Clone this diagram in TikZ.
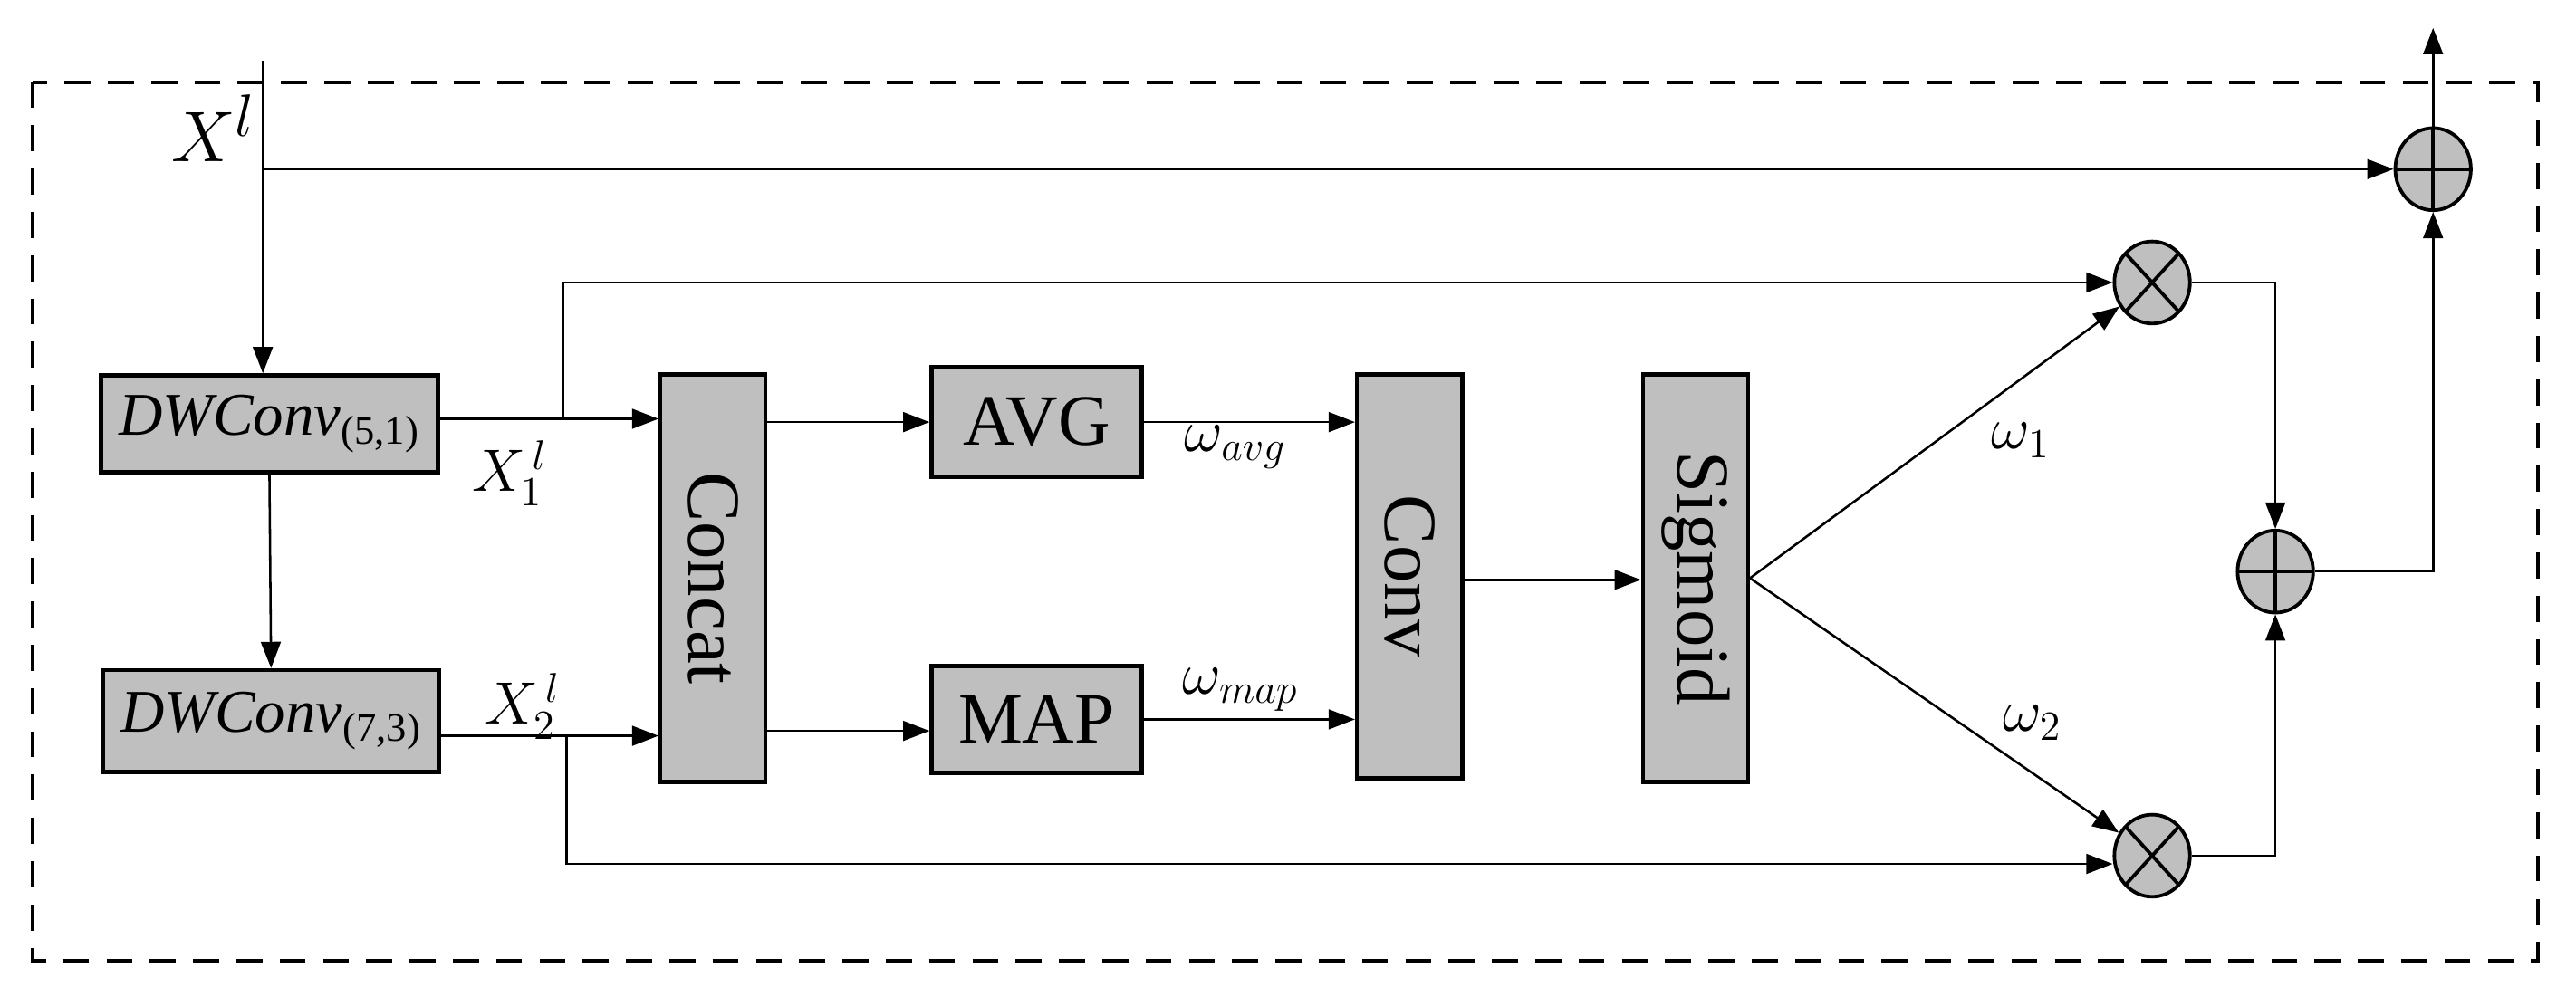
\documentclass[tikz,border=0pt]{standalone}
\usepackage{fontspec}
\setmainfont{Liberation Serif}
\usetikzlibrary{arrows.meta,shapes.geometric}
\begin{document}
\begin{tikzpicture}[x=0.02cm,y=-0.02cm,
    line width=0.8pt,
    >={Triangle[length=0.32cm,width=0.24cm]},
    blk/.style={draw,line width=1.4pt,fill=gray!50,inner sep=0pt},
    vblk/.style={blk,minimum width=64*0.02cm,minimum height=248*0.02cm},
    op/.style={draw,line width=1.2pt,fill=gray!50,ellipse,minimum width=0.92cm,minimum height=1.0cm,inner sep=0pt},
    plus/.style={op,path picture={\draw[line width=1.2pt]
        (path picture bounding box.north) -- (path picture bounding box.south)
        (path picture bounding box.west) -- (path picture bounding box.east);}},
    times/.style={op,path picture={\draw[line width=1.2pt]
        ([xshift=0.135cm,yshift=-0.145cm]path picture bounding box.north west) -- ([xshift=-0.135cm,yshift=0.145cm]path picture bounding box.south east)
        ([xshift=-0.135cm,yshift=-0.145cm]path picture bounding box.north east) -- ([xshift=0.135cm,yshift=0.145cm]path picture bounding box.south west);}},
    lbl/.style={font=\fontsize{22}{26}\selectfont}]
  \useasboundingbox (0,0) rectangle (1568,607);
  \draw[dashed,line width=1.2pt,dash pattern=on 9pt off 6pt] (20,50) rectangle (1545,585);

  % blocks
  \node[blk,minimum width=205*0.02cm,minimum height=59*0.02cm,font=\fontsize{21}{24}\selectfont] (dw1) at (164,258)
    {\textit{DWConv}\textsubscript{\fontsize{14}{16}\selectfont (5,1)}};
  \node[blk,minimum width=205*0.02cm,minimum height=62*0.02cm,font=\fontsize{21}{24}\selectfont] (dw2) at (165,439)
    {\textit{DWConv}\textsubscript{\fontsize{14}{16}\selectfont (7,3)}};
  \node[vblk] (cat) at (434,352) {};
  \node[rotate=-90,font=\fontsize{26}{30}\selectfont] (catt) at (cat) {Concat};
  \node[blk,minimum width=128*0.02cm,minimum height=67*0.02cm,font=\fontsize{25}{30}\selectfont] (avg) at (631,257) {AVG};
  \node[blk,minimum width=128*0.02cm,minimum height=65*0.02cm,font=\fontsize{25}{30}\selectfont] (map) at (631,438) {MAP};
  \node[vblk,minimum height=246*0.02cm] (conv) at (858,351) {};
  \node[rotate=-90,font=\fontsize{26}{30}\selectfont] (convt) at (conv) {Conv};
  \node[vblk] (sig) at (1032,352) {};
  \node[rotate=-90,font=\fontsize{26}{30}\selectfont] (sigt) at (sig) {Sigmoid};
  \node[times] (t1) at (1310,172) {};
  \node[times] (t2) at (1310,521) {};
  \node[plus] (p2) at (1385,348) {};
  \node[plus] (p1) at (1481,103) {};

  % free ends and bends
  \coordinate (in) at (160,37);
  \coordinate (out) at (1481,17);
  \coordinate (s0) at (160,103);
  \coordinate (b1) at (343,255);
  \coordinate (b2) at (345,448);

  % labels
  \node[lbl,font=\fontsize{30}{34}\selectfont] (xl) at (130,78) {$X^{l}$};
  \node[lbl] (x1) at (310,288) {$X_1^{\,l}$};
  \node[lbl] (x2) at (318,430) {$X_2^{\,l}$};
  \node[lbl] (wa) at (752,272) {$\omega_{avg}$};
  \node[lbl] (wm) at (755,420) {$\omega_{map}$};
  \node[lbl] (w1) at (1230,268) {$\omega_1$};
  \node[lbl] (w2) at (1237,440) {$\omega_2$};

  % connectors
  \draw[->] (in) -- (dw1.north -| in);
  \draw[->] (s0) -- (p1);
  \draw[->] (dw1.south) -- (dw2.north);
  \draw[->] (dw1.east |- b1) -- (cat.west |- b1);
  \draw[->] (dw2.east |- b2) -- (cat.west |- b2);
  \draw[->] (b1) |- (t1);
  \draw[->] (b2) |- ([yshift=-0.1cm]t2.west);
  \draw[->] (cat.east |- avg) -- (avg);
  \draw[->] (cat.east |- 0,445) -- (map.west |- 0,445);
  \draw[->] (avg) -- (conv.west |- avg);
  \draw[->] (map) -- (conv.west |- map);
  \draw[->] (conv.east |- 0,353) -- (sig.west |- 0,353);
  \draw[->] (sig.east) -- (t1);
  \draw[->] (sig.east) -- (t2);
  \draw[->] (t1.east) -| (p2.north);
  \draw[->] (t2.east) -| (p2.south);
  \draw[->] (p2.east) -| (p1.south);
  \draw[->] (p1.north) -- (out);
\end{tikzpicture}
\end{document}
